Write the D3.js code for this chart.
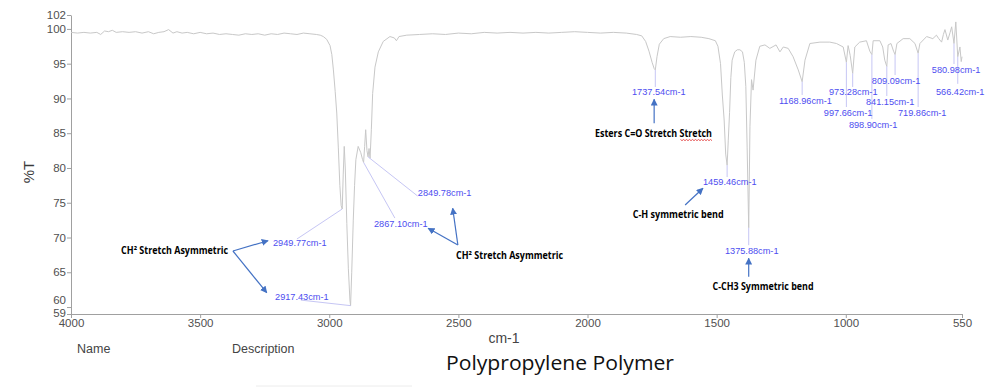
<!DOCTYPE html>
<html>
<head>
<meta charset="utf-8">
<script src="https://cdn.jsdelivr.net/npm/d3@7"></script>
<style>
  body { margin: 0; background: #fff; }
  text { font-family: "Liberation Sans", Arial, sans-serif; }
</style>
</head>
<body>
<svg id="chart" width="991" height="387"></svg>
<script>
// spectrum: [wavenumber cm-1, %T]
const spectrum = [
  [4000, 99.5], [3975, 99.4], [3950, 99.5], [3925, 99.4], [3900, 99.5], [3885, 99.2],
  [3870, 99.7], [3855, 99.6], [3840, 99.8], [3825, 99.5], [3800, 99.6], [3775, 99.5],
  [3750, 99.6], [3725, 99.4], [3700, 99.6], [3680, 99.3], [3660, 99.5], [3640, 99.6],
  [3622, 99.9], [3605, 99.4], [3590, 99.6], [3570, 99.4], [3550, 99.5], [3525, 99.3],
  [3500, 99.5], [3475, 99.3], [3450, 99.4], [3425, 99.2], [3400, 99.3], [3375, 99.2],
  [3350, 99.1], [3325, 99.3], [3300, 99.2], [3275, 99.3], [3250, 99.1], [3225, 99.3],
  [3200, 99.2], [3175, 99.4], [3150, 99.3], [3125, 99.2], [3100, 99.4], [3075, 99.3],
  [3050, 99.2], [3035, 99.1], [3023, 98.9], [3010, 98.5], [2997, 97.6], [2990, 96.3],
  [2984, 94.1], [2977, 91.0], [2971, 87.9], [2965, 83.0], [2959, 77.5], [2954, 74.6],
  [2949.77, 74.1], [2946, 79.0], [2942, 83.1], [2938, 80.0], [2932, 72.0], [2926, 65.5],
  [2920, 61.0], [2917.43, 60.2], [2913, 65.0], [2907, 72.5], [2902, 77.5], [2897, 81.2],
  [2888, 83.1], [2878, 82.2], [2871, 81.2], [2867.10, 80.8], [2863, 83.1], [2859, 85.5],
  [2854, 82.5], [2849.78, 81.6], [2846, 82.8], [2842, 81.4], [2837, 85.5], [2832, 90.7],
  [2823, 94.5], [2810, 96.7], [2791, 98.2], [2765, 98.9], [2748, 98.7], [2740, 98.3],
  [2730, 98.9], [2700, 99.1], [2650, 99.2], [2600, 99.3], [2550, 99.2], [2500, 99.4],
  [2450, 99.3], [2400, 99.5], [2350, 99.4], [2300, 99.5], [2250, 99.4], [2200, 99.5],
  [2150, 99.4], [2100, 99.5], [2050, 99.6], [2000, 99.5], [1950, 99.4], [1900, 99.5],
  [1850, 99.4], [1810, 99.2], [1790, 99.0], [1775, 98.2], [1762, 96.8], [1750, 95.2],
  [1742, 94.3], [1737.54, 94.1], [1731, 96.0], [1722, 97.8], [1705, 98.6], [1680, 98.9],
  [1640, 98.8], [1600, 98.9], [1560, 98.8], [1530, 98.6], [1505, 98.3], [1495, 97.5],
  [1485, 95.0], [1478, 90.5], [1471, 86.9], [1465, 82.0], [1459.46, 80.4], [1455, 84.0],
  [1450, 88.0], [1445, 93.0], [1440, 95.5], [1430, 96.7], [1420, 97.0], [1410, 97.0],
  [1400, 96.7], [1393, 95.2], [1387, 91.7], [1382, 83.0], [1375.88, 71.4], [1371, 86.0],
  [1365, 92.7], [1359, 91.2], [1348, 95.5], [1333, 97.5], [1313, 97.7], [1294, 97.2],
  [1270, 97.7], [1255, 96.7], [1242, 97.4], [1223, 97.2], [1204, 96.0], [1184, 94.1],
  [1168.96, 92.4], [1158, 95.5], [1139, 97.9], [1100, 98.1], [1062, 98.1], [1036, 97.9],
  [1010, 97.4], [997.66, 95.2], [991, 97.6], [983, 96.2], [973.28, 93.6], [965, 97.4],
  [946, 98.1], [920, 98.3], [907, 96.8], [898.90, 96.3], [894, 98.3], [868, 98.3],
  [857, 97.4], [849, 95.5], [841.15, 94.6], [836, 97.7], [825, 97.9], [815, 96.8],
  [809.09, 96.3], [802, 97.9], [778, 98.6], [752, 98.6], [732, 97.9], [719.86, 96.5],
  [713, 97.9], [687, 98.9], [663, 98.6], [649, 99.1], [640, 98.6], [629, 98.1],
  [622, 99.2], [616, 99.9], [605, 98.4], [596, 99.5], [590, 100.3], [580.98, 97.9],
  [574, 101.0], [566.42, 96.0], [558, 97.4], [553, 95.3], [550, 96.0]
];

const xTicks = [4000, 3500, 3000, 2500, 2000, 1500, 1000, 550];
const yTicks = [59, 60, 65, 70, 75, 80, 85, 90, 95, 100, 102];

// peak labels: peak (v,t), label anchor (lv,lt), line start (sv,st)
const peakLabels = [
  { text: "2949.77cm-1", v: 2949.77, t: 74.1, lv: 3218, lt: 68.78, sv: 3125, st: 69.79 },
  { text: "2917.43cm-1", v: 2917.43, t: 60.2, lv: 3210, lt: 61.0, sv: 3110, st: 61.0 },
  { text: "2867.10cm-1", v: 2867.10, t: 80.8, lv: 2827, lt: 71.44, sv: 2746, st: 72.8 },
  { text: "2849.78cm-1", v: 2849.78, t: 81.6, lv: 2657, lt: 75.9, sv: 2658, st: 75.97 },
  { text: "1737.54cm-1", v: 1737.54, t: 94.1, lv: 1828, lt: 90.5, sv: 1737.54, st: 91.65 },
  { text: "1459.46cm-1", v: 1459.46, t: 80.4, lv: 1553, lt: 77.48, sv: 1459.46, st: 78.7 },
  { text: "1375.88cm-1", v: 1375.88, t: 71.4, lv: 1468, lt: 67.7, sv: 1375.88, st: 68.9 },
  { text: "1168.96cm-1", v: 1168.96, t: 92.4, lv: 1259, lt: 89.2, sv: 1168.96, st: 90.5 },
  { text: "973.28cm-1", v: 973.28, t: 93.6, lv: 1065, lt: 90.5, sv: 973.28, st: 91.65 },
  { text: "997.66cm-1", v: 997.66, t: 95.2, lv: 1085, lt: 87.48, sv: 997.66, st: 88.77 },
  { text: "898.90cm-1", v: 898.90, t: 96.3, lv: 988, lt: 85.82, sv: 898.90, st: 87.05 },
  { text: "841.15cm-1", v: 841.15, t: 94.6, lv: 922, lt: 89.06, sv: 841.15, st: 90.35 },
  { text: "809.09cm-1", v: 809.09, t: 96.3, lv: 899, lt: 92.08, sv: 809.09, st: 93.37 },
  { text: "719.86cm-1", v: 719.86, t: 96.5, lv: 798, lt: 87.48, sv: 719.86, st: 88.77 },
  { text: "580.98cm-1", v: 580.98, t: 97.9, lv: 667, lt: 93.73, sv: 580.98, st: 94.95 },
  { text: "566.42cm-1", v: 566.42, t: 96.0, lv: 651, lt: 90.5, sv: 566.42, st: 92.1 }
];

// black notes with blue arrows (all in data units)
const notes = [
  { text: "CH\u00b2 Stretch Asymmetric", lv: 3806, lt: 67.63, w: 107,
    arrows: [[3373, 68.06, 3237, 69.54], [3373, 68.06, 3242, 62.06]] },
  { text: "CH\u00b2 Stretch Asymmetric", lv: 2509, lt: 66.84, w: 107,
    arrows: [[2502, 68.92, 2522, 74.2], [2502, 68.92, 2617, 71.33]] },
  { text: "Esters C=O Stretch Stretch", lv: 1971, lt: 84.46, w: 117,
    arrows: [[1742, 86.43, 1742, 89.88]] },
  { text: "C-H symmetric bend", lv: 1825, lt: 72.74, w: 91,
    arrows: [[1622, 74.68, 1553, 77.08]] },
  { text: "C-CH3 Symmetric bend", lv: 1516, lt: 62.45, w: 101,
    arrows: [[1375.88, 64.36, 1375.88, 67.01]] }
];

const svg = d3.select("#chart");
svg.append("rect").attr("width", 991).attr("height", 387).attr("fill", "#fff");

const x = d3.scaleLinear().domain([4000, 550]).range([71, 962]);
const y = d3.scaleLinear().domain([59, 102]).range([314, 15]);

// axes
const xAxis = svg.append("g")
  .attr("transform", "translate(0," + y(59) + ")")
  .call(d3.axisBottom(x).tickValues(xTicks).tickFormat(d3.format("d")).tickSize(4).tickSizeOuter(0).tickPadding(1));
const yAxis = svg.append("g")
  .attr("transform", "translate(" + x(4000) + ",0)")
  .call(d3.axisLeft(y).tickValues(yTicks).tickFormat(d3.format("d")).tickSize(4).tickSizeOuter(0).tickPadding(1));

[xAxis, yAxis].forEach((a) => {
  a.select(".domain").attr("stroke", "#a0a0a0");
  a.selectAll(".tick line").attr("stroke", "#a0a0a0");
  a.selectAll(".tick text")
    .attr("fill", "#505050")
    .style("font-size", "11.5px")
    .style("font-family", "'Liberation Sans', Arial, sans-serif");
});
// the reference lifts "60" so it clears "59"
yAxis.selectAll(".tick text").filter((d) => d === 60).attr("dy", "-0.3em");
yAxis.selectAll(".tick text").filter((d) => d === 59).attr("dy", "0.2em");

// spectrum line
const line = d3.line().x((d) => x(d[0])).y((d) => y(d[1]));
svg.append("path")
  .datum(spectrum)
  .attr("d", line)
  .attr("fill", "none")
  .attr("stroke", "#c8c8c8")
  .attr("stroke-width", 1);

// peak label leader lines + labels
svg.append("g")
  .selectAll("line")
  .data(peakLabels)
  .enter()
  .append("line")
  .attr("x1", (d) => x(d.sv))
  .attr("y1", (d) => y(d.st))
  .attr("x2", (d) => x(d.v))
  .attr("y2", (d) => y(d.t))
  .attr("stroke", "#c6c6f4")
  .attr("stroke-width", 1);

svg.append("g")
  .selectAll("text")
  .data(peakLabels)
  .enter()
  .append("text")
  .attr("x", (d) => x(d.lv))
  .attr("y", (d) => y(d.lt))
  .attr("fill", "#4d4df0")
  .style("font-size", "9.2px")
  .text((d) => d.text);

// arrows
const defs = svg.append("defs");
defs.append("marker")
  .attr("id", "arrow")
  .attr("viewBox", "0 0 10 10")
  .attr("refX", 9)
  .attr("refY", 5)
  .attr("markerWidth", 7)
  .attr("markerHeight", 7)
  .attr("markerUnits", "userSpaceOnUse")
  .attr("orient", "auto")
  .append("path")
  .attr("d", "M0,0 L10,5 L0,10 z")
  .attr("fill", "#4472c4");

const noteG = svg.append("g");
notes.forEach((n) => {
  n.arrows.forEach((a) => {
    noteG.append("line")
      .attr("x1", x(a[0])).attr("y1", y(a[1]))
      .attr("x2", x(a[2])).attr("y2", y(a[3]))
      .attr("stroke", "#4472c4")
      .attr("stroke-width", 1.2)
      .attr("marker-end", "url(#arrow)");
  });
  noteG.append("text")
    .attr("x", x(n.lv))
    .attr("y", y(n.lt))
    .attr("fill", "#000")
    .attr("textLength", n.w)
    .attr("lengthAdjust", "spacingAndGlyphs")
    .style("font-family", "'Open Sans', sans-serif")
    .style("font-weight", 700)
    .style("font-size", "10.5px")
    .text(n.text);
});

// red spell-check squiggle under the repeated "Stretch"
const esters = notes[2];
const sq0 = x(esters.lv) + esters.w * (19 / 26);
const sq1 = x(esters.lv) + esters.w;
const sqY = y(esters.lt) + 2.5;
let sq = "M" + sq0 + "," + sqY;
for (let px = sq0, k = 0; px < sq1; px += 1.5, k++) {
  sq += " L" + (px + 1.5) + "," + (sqY + (k % 2 === 0 ? 1.2 : 0));
}
svg.append("path").attr("d", sq).attr("fill", "none").attr("stroke", "#e03030").attr("stroke-width", 0.8);

// titles
svg.append("text")
  .attr("transform", "translate(34," + 172 + ") rotate(-90)")
  .attr("text-anchor", "middle")
  .attr("fill", "#3a3a3a")
  .style("font-size", "15px")
  .text("%T");

svg.append("text")
  .attr("x", 504).attr("y", 343)
  .attr("text-anchor", "middle")
  .attr("fill", "#444")
  .style("font-size", "14px")
  .text("cm-1");

svg.append("text").attr("x", 77).attr("y", 353).attr("fill", "#444").style("font-size", "12.5px").text("Name");
svg.append("text").attr("x", 232).attr("y", 353).attr("fill", "#444").style("font-size", "12.5px").text("Description");

svg.append("text")
  .attr("x", 446).attr("y", 370)
  .attr("fill", "#111")
  .attr("textLength", 228)
  .attr("lengthAdjust", "spacingAndGlyphs")
  .style("font-family", "'Open Sans', sans-serif")
  .style("font-size", "20px")
  .text("Polypropylene Polymer");

svg.append("line")
  .attr("x1", 256).attr("x2", 412).attr("y1", 386).attr("y2", 386)
  .attr("stroke", "#ececec");
</script>
</body>
</html>
